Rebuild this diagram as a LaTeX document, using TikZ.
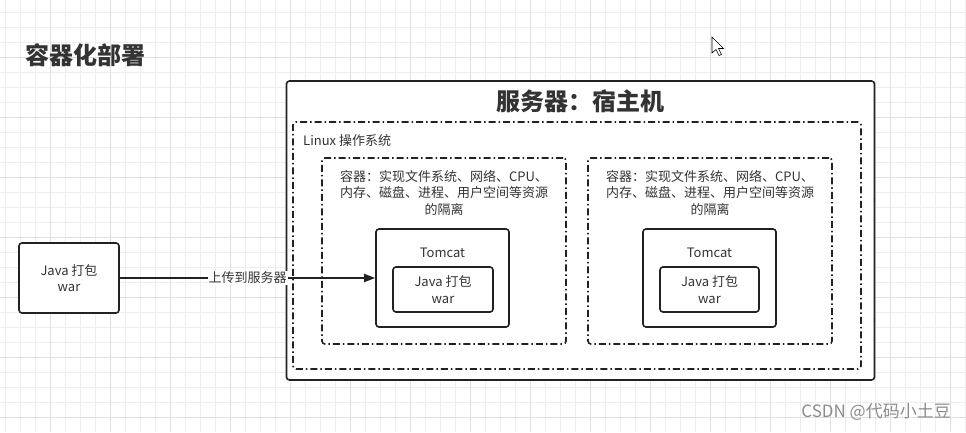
\documentclass[tikz,border=0pt]{standalone}
\usepackage{fontspec}
\setmainfont{Noto Sans CJK SC}
\usetikzlibrary{arrows.meta}
\definecolor{ink}{HTML}{222222}
\definecolor{txt}{HTML}{333333}
\definecolor{gminor}{HTML}{EEEEEE}
\definecolor{gmajor}{HTML}{E0E0E0}
\begin{document}
\begin{tikzpicture}[x=1pt,y=-1pt,
 box/.style={draw=ink, line width=1.6pt, rounded corners=3pt, fill=white, inner sep=0pt},
 dd/.style={draw=ink, line width=1.6pt, rounded corners=3pt, dash pattern=on 7pt off 3pt on 1.5pt off 3pt, inner sep=0pt},
 lbl/.style={text=txt, font=\fontsize{13}{16.5}\selectfont, align=center, inner sep=0pt},
 ttl/.style={text=txt, font=\fontsize{24}{28}\selectfont\bfseries, inner sep=0pt}]
\useasboundingbox (0,0) rectangle (966,432);
\fill[white] (0,0) rectangle (966,432);
\foreach \x in {5,20,...,965} \draw[gminor, line width=0.8pt] (\x,0) -- (\x,432);
\foreach \y in {12,27,...,431} \draw[gminor, line width=0.8pt] (0,\y) -- (966,\y);
\foreach \x in {50,110,...,950} \draw[gmajor, line width=1pt] (\x,0) -- (\x,432);
\foreach \y in {57,117,...,417} \draw[gmajor, line width=1pt] (0,\y) -- (966,\y);

\node[ttl] (title) at (85,55) {容器化部署};

\node[box, lbl, minimum width=100pt, minimum height=70pt] (src) at (69,278) {Java 打包\\war};

\node[box, minimum width=588pt, minimum height=299pt] (srv) at (580.5,230.5) {};
\node[ttl] (srvt) at (580,101) {服务器：宿主机};

\node[dd, minimum width=568pt, minimum height=247pt] (os) at (577,245.5) {};
\node[lbl, anchor=west] (ost) at (303,141) {Linux 操作系统};

\node[dd, minimum width=244pt, minimum height=186pt] (c1) at (444,251) {};
\node[lbl] (c1t) at (444,192.5) {容器：实现文件系统、网络、CPU、\\内存、磁盘、进程、用户空间等资源\\的隔离};
\node[box, minimum width=133pt, minimum height=98pt] (t1) at (442.5,278) {};
\node[lbl] (t1t) at (442.5,253) {Tomcat};
\node[box, lbl, minimum width=100pt, minimum height=45pt] (j1) at (443,289.5) {Java 打包\\war};

\node[dd, minimum width=244pt, minimum height=186pt] (c2) at (710,251) {};
\node[lbl] (c2t) at (710,192.5) {容器：实现文件系统、网络、CPU、\\内存、磁盘、进程、用户空间等资源\\的隔离};
\node[box, minimum width=133pt, minimum height=98pt] (t2) at (709.5,278) {};
\node[lbl] (t2t) at (709.5,253) {Tomcat};
\node[box, lbl, minimum width=99pt, minimum height=45pt] (j2) at (709.5,289.5) {Java 打包\\war};

\draw[ink, line width=1.9pt, -{Triangle[length=11pt,width=8pt]}] (src.east) -- (t1.west)
  node[midway, lbl, fill=white, inner sep=1pt] (up) {上传到服务器};

\node[text=black!45, font=\fontsize{17}{20}\selectfont, anchor=east, inner sep=0pt] (wm) at (951,412) {CSDN @代码小土豆};

\draw[black, fill=white, line width=0.6pt] (712,37) -- (712,53) -- (716,49.5) -- (719,55.5) -- (721.5,54.5) -- (718.5,48.5) -- (723.5,48.5) -- cycle;
\end{tikzpicture}
\end{document}
